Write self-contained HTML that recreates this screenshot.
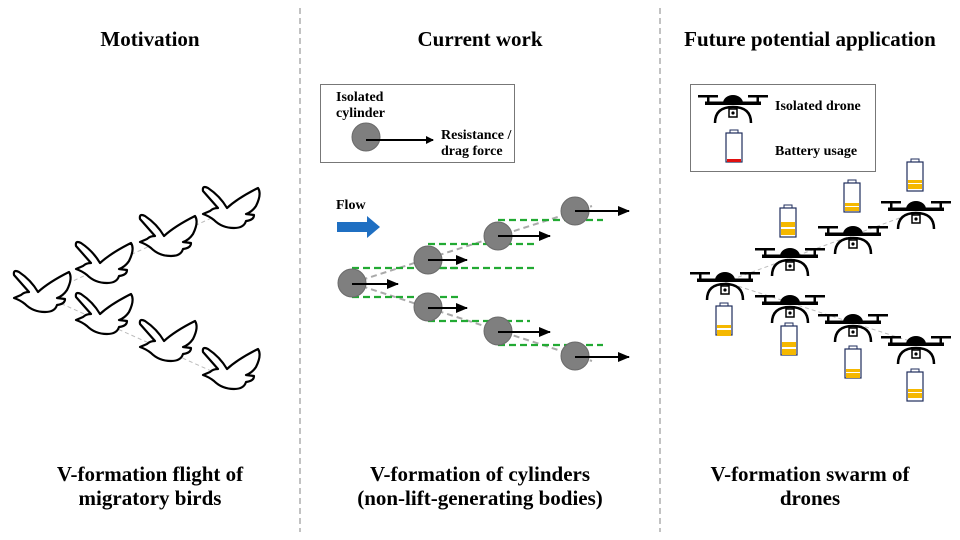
<!DOCTYPE html>
<html><head><style>
body{margin:0;background:#fff;}
svg{display:block;}
text{font-family:"Liberation Serif",serif;font-weight:bold;fill:#000;}
</style></head><body>
<svg width="960" height="540" viewBox="0 0 960 540" xmlns="http://www.w3.org/2000/svg">
<defs>
<path id="bird" d="M3,30 L10,27 Q13,24 18,24 L3,7 Q2,1 8,4 Q20,12 27,24 Q38,14 58,4 Q62,10 56,22 Q52,28 46,30 L54,31 Q54,36 46,37 Q44,44 34,44 Q22,44 14,36 Q9,32 3,30 Z" fill="#fff" stroke="#000" stroke-width="2.2" stroke-linejoin="round"/>
<g id="drone">
<rect x="-35" y="-8" width="20" height="2.5" fill="#000"/>
<rect x="15" y="-8" width="20" height="2.5" fill="#000"/>
<rect x="-26" y="-7" width="2.5" height="7" fill="#000"/>
<rect x="23.5" y="-7" width="2.5" height="7" fill="#000"/>
<rect x="-28" y="-1.5" width="56" height="3.5" fill="#000"/>
<path d="M-10,0 A10,8 0 0 1 10,0 Z" fill="#000"/>
<path d="M-18,20 Q-18,4 0,4 Q18,4 18,20" fill="none" stroke="#000" stroke-width="2.5"/>
<rect x="-4" y="6" width="8" height="8" fill="#fff" stroke="#000" stroke-width="1.5"/>
<circle cx="0" cy="10" r="1.6" fill="#000"/>
</g>
<g id="bat">
<rect x="-4" y="0" width="8" height="3" fill="#fff" stroke="#1f2d5c" stroke-width="1"/>
<rect x="-8" y="3" width="16" height="29" fill="#fff" stroke="#1f2d5c" stroke-width="1.2"/>
</g>
<marker id="ah" markerWidth="8" markerHeight="8" refX="7" refY="4" orient="auto" markerUnits="userSpaceOnUse"><path d="M0,0 L8,4 L0,8 Z" fill="#000"/></marker>
<marker id="ah2" markerWidth="12" markerHeight="10" refX="11" refY="5" orient="auto" markerUnits="userSpaceOnUse"><path d="M0,0 L12,5 L0,10 Z" fill="#000"/></marker>
</defs>

<line x1="300" y1="8" x2="300" y2="532" stroke="#999" stroke-width="1.2" stroke-dasharray="6,4"/>
<line x1="660" y1="8" x2="660" y2="532" stroke="#999" stroke-width="1.2" stroke-dasharray="6,4"/>

<text x="150" y="46" font-size="21" text-anchor="middle">Motivation</text>
<text x="480" y="46" font-size="21" text-anchor="middle">Current work</text>
<text x="810" y="46" font-size="21" text-anchor="middle">Future potential application</text>

<text x="150" y="481" font-size="21" text-anchor="middle">V-formation flight of</text>
<text x="150" y="505" font-size="21" text-anchor="middle">migratory birds</text>
<text x="480" y="481" font-size="21" text-anchor="middle">V-formation of cylinders</text>
<text x="480" y="505" font-size="21" text-anchor="middle">(non-lift-generating bodies)</text>
<text x="810" y="481" font-size="21" text-anchor="middle">V-formation swarm of</text>
<text x="810" y="505" font-size="21" text-anchor="middle">drones</text>

<g stroke="#bbb" stroke-width="1" stroke-dasharray="4,3">
<line x1="42" y1="295" x2="227" y2="211"/>
<line x1="42" y1="295" x2="238" y2="383"/>
</g>
<use href="#bird" x="11" y="268"/>
<use href="#bird" x="73" y="239"/>
<use href="#bird" x="137" y="212"/>
<use href="#bird" x="200" y="184"/>
<use href="#bird" x="73" y="290"/>
<use href="#bird" x="137" y="317"/>
<use href="#bird" x="200" y="345"/>

<rect x="320.5" y="84.5" width="194" height="78" fill="#fff" stroke="#777" stroke-width="1"/>
<text x="336" y="101" font-size="14">Isolated</text>
<text x="336" y="117" font-size="14">cylinder</text>
<circle cx="366" cy="137" r="14" fill="#7f7f7f" stroke="#6a6a6a"/>
<line x1="366" y1="140" x2="433" y2="140" stroke="#000" stroke-width="2" marker-end="url(#ah)"/>
<text x="441" y="139" font-size="14">Resistance /</text>
<text x="441" y="155" font-size="14">drag force</text>

<text x="336" y="209" font-size="14">Flow</text>
<path d="M337,222 L367,222 L367,216 L380,227 L367,238 L367,232 L337,232 Z" fill="#1f6fc2"/>

<g stroke="#aaa" stroke-width="2" stroke-dasharray="6,4">
<line x1="352" y1="283" x2="592" y2="206"/>
<line x1="352" y1="283" x2="592" y2="361"/>
</g>
<g stroke="#22aa33" stroke-width="2.2" stroke-dasharray="7,4">
<line x1="352" y1="268" x2="460" y2="268"/>
<line x1="352" y1="297" x2="460" y2="297"/>
<line x1="428" y1="244" x2="535" y2="244"/>
<line x1="428" y1="268" x2="535" y2="268"/>
<line x1="498" y1="220" x2="603" y2="220"/>
<line x1="428" y1="321" x2="530" y2="321"/>
<line x1="498" y1="345" x2="603" y2="345"/>
</g>
<g fill="#7f7f7f" stroke="#6a6a6a">
<circle cx="352" cy="283" r="14"/>
<circle cx="428" cy="260" r="14"/>
<circle cx="498" cy="236" r="14"/>
<circle cx="575" cy="211" r="14"/>
<circle cx="428" cy="307" r="14"/>
<circle cx="498" cy="331" r="14"/>
<circle cx="575" cy="356" r="14"/>
</g>
<g stroke="#000" stroke-width="2">
<line x1="352" y1="284" x2="398" y2="284" marker-end="url(#ah2)"/>
<line x1="428" y1="260" x2="467" y2="260" marker-end="url(#ah2)"/>
<line x1="498" y1="236" x2="550" y2="236" marker-end="url(#ah2)"/>
<line x1="575" y1="211" x2="629" y2="211" marker-end="url(#ah2)"/>
<line x1="428" y1="308" x2="467" y2="308" marker-end="url(#ah2)"/>
<line x1="498" y1="332" x2="550" y2="332" marker-end="url(#ah2)"/>
<line x1="575" y1="357" x2="629" y2="357" marker-end="url(#ah2)"/>
</g>

<rect x="690.5" y="84.5" width="185" height="87" fill="#fff" stroke="#777" stroke-width="1"/>
<use href="#drone" x="733" y="103"/>
<text x="775" y="110" font-size="14">Isolated drone</text>
<use href="#bat" x="734" y="130"/>
<rect x="727" y="159" width="14" height="3" fill="#e01010"/>
<text x="775" y="155" font-size="14">Battery usage</text>

<g stroke="#bbb" stroke-width="1" stroke-dasharray="4,3">
<line x1="725" y1="282" x2="916" y2="212"/>
<line x1="725" y1="282" x2="916" y2="343"/>
</g>
<use href="#drone" x="725" y="280"/>
<use href="#drone" x="790" y="256"/>
<use href="#drone" x="853" y="234"/>
<use href="#drone" x="916" y="209"/>
<use href="#drone" x="790" y="303"/>
<use href="#drone" x="853" y="322"/>
<use href="#drone" x="916" y="344"/>

<g fill="#f5b800">
<use href="#bat" x="788" y="205"/><rect x="781" y="222" width="14" height="5"/><rect x="781" y="229" width="14" height="6"/>
<use href="#bat" x="852" y="180"/><rect x="845" y="203" width="14" height="3"/><rect x="845" y="207" width="14" height="4"/>
<use href="#bat" x="915" y="159"/><rect x="908" y="180" width="14" height="3"/><rect x="908" y="184" width="14" height="5"/>
<use href="#bat" x="724" y="303"/><rect x="717" y="325" width="14" height="3"/><rect x="717" y="330" width="14" height="6"/>
<use href="#bat" x="789" y="323"/><rect x="782" y="342" width="14" height="5"/><rect x="782" y="349" width="14" height="6"/>
<use href="#bat" x="853" y="346"/><rect x="846" y="369" width="14" height="3"/><rect x="846" y="373" width="14" height="5"/>
<use href="#bat" x="915" y="369"/><rect x="908" y="389" width="14" height="3"/><rect x="908" y="393" width="14" height="5"/>
</g>
</svg>
</body></html>
